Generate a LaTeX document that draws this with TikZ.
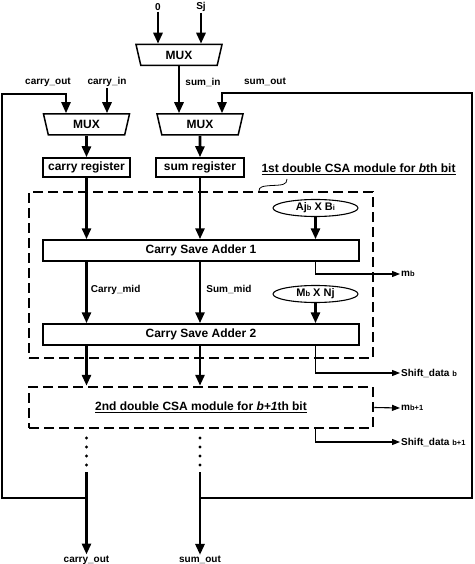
\documentclass[tikz,border=0pt]{standalone}
\usepackage{fontspec}
\setmainfont{Liberation Sans}
\usetikzlibrary{shapes.geometric, arrows.meta, positioning, calc}
\newcommand{\lowidx}[1]{{\fontsize{7.5}{8}\selectfont #1}}

\begin{document}
\begin{tikzpicture}[
            x=1pt, y=-1pt,
            mux/.style={trapezium, trapezium angle=60, shape border rotate=180, trapezium stretches body, draw, line width=1.5pt, minimum width=86pt, minimum height=21pt, inner sep=0pt, font=\fontsize{12}{14}\selectfont\bfseries},
            reg/.style={rectangle, draw, line width=1.5pt, minimum width=87pt, minimum height=19pt, inner sep=0pt, font=\fontsize{12}{14}\selectfont\bfseries},
            csa/.style={rectangle, draw, line width=1.5pt, minimum width=316pt, minimum height=21pt, inner sep=0pt, font=\fontsize{12}{14}\selectfont\bfseries},
            prod/.style={ellipse, draw, line width=1.1pt, minimum width=85pt, minimum height=17pt, inner sep=0pt, font=\fontsize{11}{13}\selectfont\bfseries},
            module/.style={rectangle, draw, dashed, dash pattern=on 10pt off 5pt, line width=2.5pt, minimum width=344pt, inner sep=0pt, font=\fontsize{12}{14}\selectfont\bfseries},
            lbl/.style={inner sep=1pt, font=\fontsize{10}{12}\selectfont\bfseries},
            arrow/.style={-{Triangle[length=11pt, width=9pt]}, line width=2.8pt},
            frame/.style={-{Triangle[length=11pt, width=9pt]}, line width=2.2pt},
            outarrow/.style={-{Triangle[length=8pt, width=6pt]}, line width=1.1pt}
        ]
            \useasboundingbox (0,0) rectangle (474,564);
            % Nodes
            \node[mux] (mux0) at (179,55) {MUX};
            \node[lbl] (in0) at (158,7) {0};
            \node[lbl] (insj) at (201,7) {Sj};
            \node[mux] (muxc) at (86.5,124.5) {MUX};
            \node[mux] (muxs) at (200,124.5) {MUX};
            \node[lbl] (coutt) at (48,82) {carry\_out};
            \node[lbl] (cint) at (107,82) {carry\_in};
            \node[lbl] (sint) at (203,82) {sum\_in};
            \node[lbl] (soutt) at (265,82) {sum\_out};
            \node[reg] (regc) at (86.5,167.5) {carry register};
            \node[reg, minimum width=88pt] (regs) at (200,167.5) {sum register};
            \node[inner sep=0pt, font=\fontsize{12}{14}\selectfont\bfseries] (t1) at (358.5,169) {\underline{1st double CSA module for \textit{b}th bit}};
            \node[module, minimum height=166pt] (box1) at (201,275) {};
            \node[prod] (e1) at (315.5,208) {Aj\lowidx{b} X B\lowidx{i}};
            \node[csa] (csa1) at (201,250.5) {Carry Save Adder 1};
            \node[prod] (e2) at (315.5,294) {M\lowidx{b} X Nj};
            \node[csa] (csa2) at (201,334.5) {Carry Save Adder 2};
            \node[module, minimum height=41pt] (box2) at (201,407.5) {\underline{2nd double CSA module for \textit{b+1}th bit}};
            \node[lbl, anchor=west] (mb) at (400,274) {m\lowidx{b}};
            \node[lbl, anchor=west] (sdb) at (400,373) {Shift\_data \lowidx{b}};
            \node[lbl, anchor=west] (mb1) at (400,408) {m\lowidx{b+1}};
            \node[lbl, anchor=west] (sdb1) at (400,442) {Shift\_data \lowidx{b+1}};
            \node[lbl] (coutb) at (86.5,560) {carry\_out};
            \node[lbl] (soutb) at (200,560) {sum\_out};
            \coordinate (fb) at (2,498);
            \coordinate (rb) at (472,498);
            \coordinate (cloop) at (66,94);
            \coordinate (sloop) at (222,93);
            \coordinate (tag) at (287,179);
            \coordinate (tagend) at (259,191);
            \coordinate (cdots) at (86.5,472);
            \coordinate (sdots) at (200,472);

            % Arrows
            \draw[arrow] (in0.south) -- (in0.south |- mux0.north);
            \draw[arrow] (insj.south) -- (insj.south |- mux0.north);
            \draw[arrow] (mux0.south) -- (mux0.south |- muxs.north);
            \draw[arrow] (cint.south) -- (cint.south |- muxc.north);
            \draw[frame] (regc |- fb) -- (fb) |- (cloop) -- (cloop |- muxc.north);
            \draw[frame] (regs |- rb) -- (rb) |- (sloop) -- (sloop |- muxs.north);
            \draw[arrow] (muxc.south) -- (regc.north);
            \draw[arrow] (muxs.south) -- (regs.north);
            \draw[arrow] (regc.south) -- (regc.south |- csa1.north);
            \draw[arrow] (regs.south) -- (regs.south |- csa1.north);
            \draw[arrow] (e1.south) -- (e1.south |- csa1.north);
            \draw[arrow] (csa1.south -| regc) -- node[lbl, right=2pt, pos=0.45] {Carry\_mid} (csa2.north -| regc);
            \draw[arrow] (csa1.south -| regs) -- node[lbl, right=4pt, pos=0.45] {Sum\_mid} (csa2.north -| regs);
            \draw[arrow] (e2.south) -- (e2.south |- csa2.north);
            \draw[outarrow] (csa1.south -| e1) |- (mb.west);
            \draw[outarrow] (csa2.south -| e2) |- (sdb.west);
            \draw[arrow] (csa2.south -| regc) -- (box2.north -| regc);
            \draw[arrow] (csa2.south -| regs) -- (box2.north -| regs);
            \draw[outarrow] (box2.east) -- (mb1.west);
            \draw[outarrow] (box2.south -| e2) |- (sdb1.west);
            \draw[line width=0.8pt] (tag) .. controls (287,185) and (282,185) .. (272,185.5) .. controls (262,186) and (259,187) .. (tagend);
            \foreach \y in {438,447,456,465} {
                \fill (86.5,\y) circle (1.7pt);
                \fill (200,\y) circle (1.7pt);
            }
            \draw[arrow] (cdots) -- (coutb.north);
            \draw[arrow] (sdots) -- (soutb.north);
        \end{tikzpicture}
\end{document}
